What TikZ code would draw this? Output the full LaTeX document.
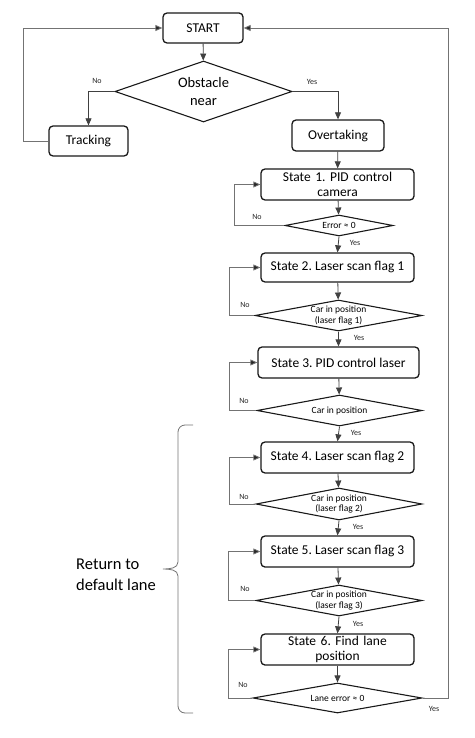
\documentclass[tikz,border=0pt]{standalone}
\usepackage{fontspec}
\setmainfont{Carlito}
\usetikzlibrary{shapes.geometric,arrows.meta}
\tikzset{
  box/.style={draw=black!90, line width=1.3pt, rounded corners=4pt, inner sep=1pt, align=center, font=\fontsize{13.5}{15}\selectfont\frenchspacing},
  dia/.style={draw=black!90, line width=1.1pt, diamond, shape aspect=5.5, inner sep=0pt, align=center, font=\fontsize{9.5}{10.5}\selectfont},
  con/.style={draw=black!75, line width=0.8pt, -{Triangle[length=7pt,width=6pt]}},
  loop/.style={draw=black!55, line width=0.8pt, -{Triangle[length=7pt,width=6pt,fill=black!85]}},
  lbl/.style={font=\fontsize{8}{9}\selectfont, inner sep=0pt, text=black!85},
}
\begin{document}
\begin{tikzpicture}[x=1pt,y=-1pt]
\frenchspacing
\useasboundingbox (0,0) rectangle (474,738);
% nodes
\node[box, minimum width=80pt, minimum height=30pt] (start) at (203,28) {START};
\node[dia, shape aspect=2.9, minimum width=177pt, minimum height=61pt, font=\fontsize{14.5}{18}\selectfont] (obs) at (203.5,91.5) {Obstacle\\near};
\node[box, minimum width=79pt, minimum height=30pt] (track) at (88.5,141) {Tracking};
\node[box, minimum width=92pt, minimum height=31pt] (over) at (338,135.5) {Overtaking};

\node[box, minimum width=153pt, minimum height=31pt, text width=150pt] (s1) at (337.5,184.5) {State 1. PID control\\camera};
\node[dia, minimum width=108pt, minimum height=21pt] (d1) at (339,225.5) {Error ≈ 0};

\node[box, minimum width=153pt, minimum height=29pt] (s2) at (337.5,267.5) {State 2. Laser scan flag 1};
\node[dia, minimum width=167pt, minimum height=31pt] (d2) at (338.5,315.5) {Car in position\\(laser flag 1)};

\node[box, minimum width=161pt, minimum height=31pt] (s3) at (338.5,362.5) {State 3. PID control laser};
\node[dia, minimum width=165pt, minimum height=31pt] (d3) at (339.5,410.5) {Car in position};

\node[box, minimum width=153pt, minimum height=31pt] (s4) at (337.5,457.5) {State 4. Laser scan flag 2};
\node[dia, minimum width=166pt, minimum height=32pt] (d4) at (339,504) {Car in position\\(laser flag 2)};

\node[box, minimum width=153pt, minimum height=31pt] (s5) at (337.5,551.5) {State 5. Laser scan flag 3};
\node[dia, minimum width=166pt, minimum height=31pt] (d5) at (339,600.5) {Car in position\\(laser flag 3)};

\node[box, minimum width=153pt, minimum height=31pt, text width=150pt] (s6) at (337.5,649.5) {State 6. Find lane\\position};
\node[dia, minimum width=169pt, minimum height=30pt] (d6) at (337.5,698) {Lane error ≈ 0};

% main flow
\draw[con] (start) -- (obs);
\draw[con] (obs.west) -| (track.north);
\draw[con] (obs.east) -| (over.north);
\draw[con] (over) -- (s1);
\draw[con] (s1) -- (d1);
\draw[con] (d1.south) -- (s2.north);
\draw[con] (s2) -- (d2);
\draw[con] (d2.south) -- (s3.north);
\draw[con] (s3) -- (d3);
\draw[con] (d3.south) -- (s4.north);
\draw[con] (s4) -- (d4);
\draw[con] (d4.south) -- (s5.north);
\draw[con] (s5) -- (d5);
\draw[con] (d5.south) -- (s6.north);
\draw[con] (s6) -- (d6);

% loops
\draw[loop] (track.west) -- (23,141) |- (start.west);
\draw[loop] (d6.east) -- (448,698) |- (start.east);
\draw[loop] (d1.west) -- (234,225.5) |- (s1.west);
\draw[loop] (d2.west) -- (229,315.5) |- (s2.west);
\draw[loop] (d3.west) -- (229,410.5) |- (s3.west);
\draw[loop] (d4.west) -- (229,504) |- (s4.west);
\draw[loop] (d5.west) -- (228,600.5) |- (s5.west);
\draw[loop] (d6.west) -- (228,698) |- (s6.west);

% labels
\node[lbl] (lno0) at (97,81) {No};
\node[lbl] (lyes0) at (312,82) {Yes};
\node[lbl] (lno1) at (257,217) {No};
\node[lbl] (lyes1) at (355,243) {Yes};
\node[lbl] (lno2) at (245,305) {No};
\node[lbl] (lyes2) at (359,338) {Yes};
\node[lbl] (lno3) at (244,401) {No};
\node[lbl] (lyes3) at (356,433) {Yes};
\node[lbl] (lno4) at (244,497) {No};
\node[lbl] (lyes4) at (358,527) {Yes};
\node[lbl] (lno5) at (245,589) {No};
\node[lbl] (lyes5) at (358,624) {Yes};
\node[lbl] (lno6) at (243,685) {No};
\node[lbl] (lyes6) at (434,709) {Yes};

% brace
\coordinate (bt) at (193,425);
\coordinate (bb) at (193,713);
\draw[black!55, line width=0.8pt] (bt) -- (185,425) to[out=180,in=90] (178,432) -- (178,562) to[out=-90,in=0] (163,569) to[out=0,in=90] (178,576) -- (178,706) to[out=-90,in=180] (185,713) -- (bb);
\node[anchor=west, align=left, font=\fontsize{16.5}{21}\selectfont, inner sep=0pt] (ret) at (76,575) {Return to\\default lane};
\end{tikzpicture}
\end{document}
